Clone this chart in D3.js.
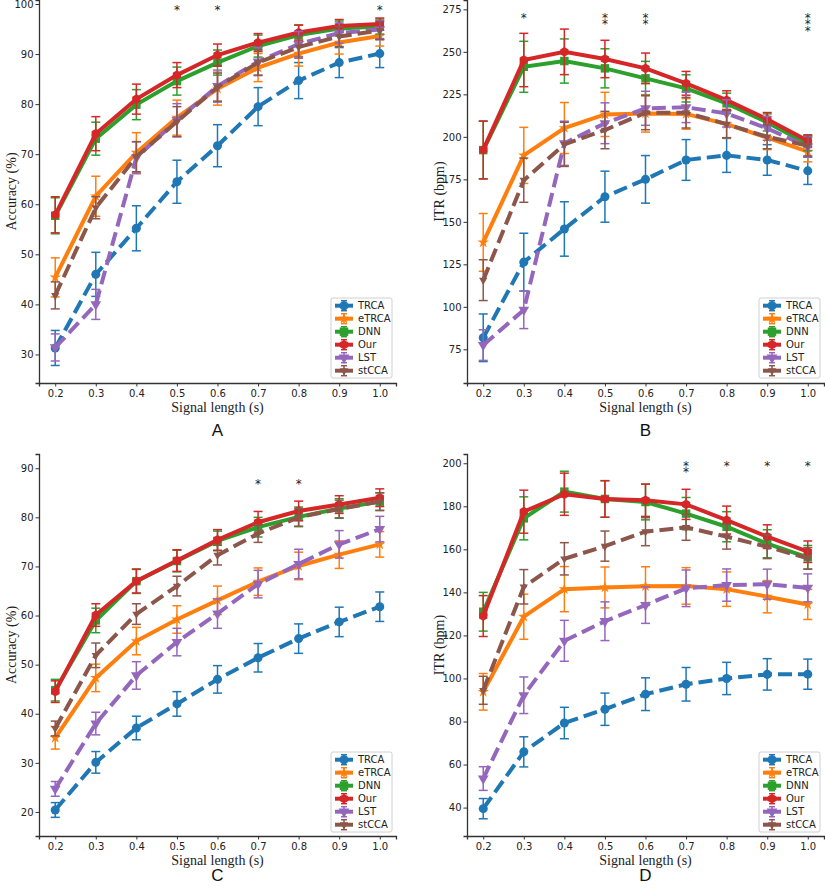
<!DOCTYPE html>
<html>
<head>
<meta charset="utf-8">
<script src="https://cdn.jsdelivr.net/npm/d3@7"></script>
<style>
  body { margin: 0; background: #fff; }
  svg { display: block; }
</style>
</head>
<body>
<svg id="chart" width="825" height="889"></svg>
<script>
// signal lengths (s) and methods, legend order
const lengths = [0.2, 0.3, 0.4, 0.5, 0.6, 0.7, 0.8, 0.9, 1.0]
const methods = ["TRCA", "eTRCA", "DNN", "Our", "LST", "stCCA"]

// A - accuracy (%), rows follow methods
const accA = [
  [31.3, 46.0, 55.2, 64.5, 71.7, 79.5, 84.7, 88.3, 90.1],
  [45.4, 61.6, 70.3, 77.3, 83.1, 87.3, 90.1, 92.3, 93.6],
  [57.7, 73.1, 79.9, 84.6, 88.3, 91.6, 93.8, 95.1, 95.5],
  [57.9, 74.1, 81.0, 85.8, 89.8, 92.3, 94.3, 95.6, 96.0],
  [31.4, 40.0, 69.3, 76.8, 83.6, 88.5, 92.0, 94.2, 94.9],
  [41.8, 59.3, 69.5, 76.5, 83.4, 88.3, 91.4, 93.5, 94.7]
]
const accAErr = [
  [3.5, 4.4, 4.5, 4.3, 4.2, 3.8, 3.6, 3.0, 2.8],
  [3.9, 4.0, 4.0, 3.5, 3.3, 2.8, 2.5, 2.3, 2.0],
  [3.6, 3.3, 3.0, 2.8, 2.5, 2.2, 2.0, 1.5, 1.5],
  [3.6, 3.4, 3.0, 2.5, 2.2, 1.8, 1.5, 1.3, 1.2],
  [2.7, 3.0, 3.2, 3.3, 3.2, 2.8, 2.5, 2.0, 1.8],
  [2.7, 2.2, 3.0, 3.0, 2.8, 2.5, 2.2, 2.0, 1.8]
]
const starsA = [0, 0, 0, 1, 1, 0, 0, 0, 1]

// B - ITR (bpm)
const itrB = [
  [81.8, 126.3, 145.8, 164.8, 175.0, 186.4, 189.1, 186.4, 180.0],
  [137.9, 189.1, 205.2, 213.2, 213.8, 213.5, 207.5, 199.5, 191.3],
  [192.2, 241.2, 244.6, 240.3, 234.4, 228.5, 219.7, 208.5, 195.8],
  [192.3, 245.2, 250.0, 245.8, 240.3, 231.5, 221.6, 210.3, 197.7],
  [77.5, 98.2, 196.2, 208.0, 216.8, 217.4, 213.8, 205.0, 194.2],
  [115.7, 174.5, 195.6, 204.0, 214.2, 214.2, 207.5, 200.0, 194.8]
]
const itrBErr = [
  [14, 17, 16, 15, 14, 12, 10, 9, 8],
  [17, 16.5, 15, 13, 11, 9, 8, 7, 6],
  [17, 15, 13, 11.5, 10, 8, 6, 5, 4],
  [17, 15.7, 13.4, 11, 9, 7, 5.5, 4, 3.5],
  [9, 11, 13, 12, 10, 9, 8, 7, 6],
  [12, 13, 13, 11, 10, 9, 8, 7, 6]
]
const starsB = [0, 1, 0, 2, 2, 0, 0, 0, 3]

// C - accuracy (%)
const accC = [
  [20.4, 30.1, 37.1, 42.0, 47.0, 51.4, 55.3, 58.7, 61.8],
  [35.1, 47.3, 54.8, 59.2, 63.1, 66.9, 70.1, 72.4, 74.5],
  [44.8, 59.0, 67.0, 71.1, 75.2, 78.0, 80.1, 81.8, 83.2],
  [44.5, 60.1, 67.0, 71.2, 75.4, 79.0, 81.3, 82.6, 84.0],
  [24.7, 38.0, 47.8, 54.6, 60.4, 66.4, 70.5, 74.5, 77.6],
  [37.0, 51.9, 60.3, 66.0, 72.3, 76.7, 80.0, 81.7, 83.2]
]
const accCErr = [
  [1.5, 2.2, 2.4, 2.5, 2.8, 2.9, 3.0, 3.0, 3.0],
  [2.3, 2.8, 2.8, 2.8, 2.9, 2.8, 2.8, 2.8, 2.6],
  [2.2, 2.5, 2.5, 2.2, 2.0, 2.0, 2.0, 2.0, 1.8],
  [2.2, 2.3, 2.4, 2.2, 2.1, 2.2, 2.0, 1.8, 1.8],
  [1.5, 2.3, 2.8, 2.8, 3.0, 2.8, 3.0, 2.8, 2.6],
  [1.5, 2.5, 2.1, 2.0, 2.0, 1.8, 1.8, 1.8, 1.8]
]
const starsC = [0, 0, 0, 0, 0, 1, 1, 0, 0]

// D - ITR (bpm)
const itrD = [
  [39.5, 65.9, 79.3, 85.7, 92.7, 97.3, 100.0, 101.9, 102.0],
  [93.8, 128.7, 141.5, 142.3, 142.9, 143.0, 141.5, 138.0, 134.4],
  [131.0, 174.4, 186.8, 183.4, 182.0, 176.6, 170.5, 162.6, 156.3],
  [129.0, 177.5, 185.6, 183.4, 182.8, 180.9, 173.6, 165.9, 158.9],
  [53.5, 92.2, 117.5, 126.6, 134.1, 141.9, 143.4, 143.8, 142.1],
  [94.5, 142.6, 155.6, 161.5, 168.2, 170.2, 165.9, 161.2, 155.8]
]
const itrDErr = [
  [4.7, 7, 7.3, 7.5, 7.6, 7.8, 7.5, 7.3, 7],
  [8.5, 10.5, 10.5, 9.5, 9, 8.5, 8, 7.5, 7],
  [9, 10, 9.5, 8.5, 8.3, 7.5, 7, 6.5, 5.5],
  [9.5, 10, 9.8, 8.5, 7.5, 7, 6.5, 5.5, 5],
  [5.5, 8.5, 9.5, 9, 8.5, 8.5, 7.5, 7, 6.5],
  [6.5, 8, 7.5, 7, 6.5, 6, 5.8, 5.5, 5]
]
const starsD = [0, 0, 0, 0, 0, 2, 1, 1, 1]

const colors = ["#1f77b4", "#ff7f0e", "#2ca02c", "#d62728", "#9467bd", "#8c564b"]
const dashes = ["14,6", null, null, null, "14,6", "14,6"]

// hexagon marker for "Our"
const symbolHex = {
  draw(ctx, size) {
    const r = Math.sqrt(size / 2.598)
    for (let i = 0; i < 6; i++) {
      const a = Math.PI / 6 + i * Math.PI / 3
      if (i === 0) ctx.moveTo(r * Math.cos(a), r * Math.sin(a))
      else ctx.lineTo(r * Math.cos(a), r * Math.sin(a))
    }
    ctx.closePath()
  }
}
const markers = [
  {type: d3.symbolCircle, size: 64, rot: 0},
  {type: d3.symbolStar, size: 40, rot: 0},
  {type: d3.symbolSquare, size: 72, rot: 0},
  {type: symbolHex, size: 60, rot: 0},
  {type: d3.symbolTriangle, size: 50, rot: 180},
  {type: d3.symbolTriangle, size: 30, rot: 180}
]

const svg = d3.select("#chart")

const panels = [
  {label: "A", left: 39, right: 396, top: 0, bottom: 383, domain: [24.3, 100.8],
   ticks: d3.range(30, 101, 10), ylabel: "Accuracy (%)", means: accA, errs: accAErr,
   stars: starsA, starY: 99.3, legend: [331, 298], labelGap: 53},
  {label: "B", left: 467, right: 824, top: 0, bottom: 383, domain: [55.2, 280.5],
   ticks: d3.range(75, 276, 25), ylabel: "ITR (bpm)", means: itrB, errs: itrBErr,
   stars: starsB, starY: 271.6, legend: [759, 298], labelGap: 53},
  {label: "C", left: 39, right: 396, top: 454, bottom: 836, domain: [15.1, 92.9],
   ticks: d3.range(20, 91, 10), ylabel: "Accuracy (%)", means: accC, errs: accCErr,
   stars: starsC, starY: 87.3, legend: [331, 752], labelGap: 45},
  {label: "D", left: 467, right: 824, top: 454, bottom: 836, domain: [26.8, 204.3],
   ticks: d3.range(40, 201, 20), ylabel: "ITR (bpm)", means: itrD, errs: itrDErr,
   stars: starsD, starY: 200, legend: [759, 752], labelGap: 45}
]

panels.forEach(p => drawPanel(p))

function drawPanel(p) {
  const x = d3.scaleLinear().domain([0.16, 1.04]).range([p.left, p.right])
  const y = d3.scaleLinear().domain(p.domain).range([p.bottom, p.top])
  const g = svg.append("g")

  // axes
  const xAxis = g.append("g")
    .attr("transform", "translate(0," + p.bottom + ")")
    .call(d3.axisBottom(x).tickValues(lengths).tickFormat(d3.format(".1f")).tickSizeOuter(0).tickSize(3.5).tickPadding(3.5))
  const yAxis = g.append("g")
    .attr("transform", "translate(" + p.left + ",0)")
    .call(d3.axisLeft(y).tickValues(p.ticks).tickSizeOuter(0).tickSize(3.5).tickPadding(2))
  ;[xAxis, yAxis].forEach(a => {
    a.select(".domain").attr("stroke", "#333").attr("stroke-width", 1.3)
    a.selectAll(".tick line").attr("stroke", "#333").attr("stroke-width", 1)
    a.selectAll(".tick text").attr("font-family", "DejaVu Sans").attr("font-size", 10).attr("fill", "#222")
  })

  g.append("text")
    .attr("x", (p.left + p.right) / 2)
    .attr("y", p.bottom + 29)
    .attr("text-anchor", "middle")
    .attr("font-family", "Liberation Serif")
    .attr("font-size", 14)
    .attr("fill", "#222")
    .text("Signal length (s)")

  g.append("text")
    .attr("transform", "translate(" + (p.left - 23) + "," + ((p.top + p.bottom) / 2) + ")rotate(-90)")
    .attr("text-anchor", "middle")
    .attr("font-family", "Liberation Serif")
    .attr("font-size", 14)
    .attr("fill", "#222")
    .text(p.ylabel)

  g.append("text")
    .attr("x", (p.left + p.right) / 2)
    .attr("y", p.bottom + p.labelGap)
    .attr("text-anchor", "middle")
    .attr("font-family", "Liberation Sans")
    .attr("font-size", 17)
    .attr("fill", "#111")
    .text(p.label)

  // series
  methods.forEach((m, i) => {
    const mean = p.means[i]
    const err = p.errs[i]
    const pts = lengths.map((l, j) => ({x: l, v: mean[j], e: err[j]}))
    const s = g.append("g")

    const bars = s.selectAll("g.bar").data(pts).enter().append("g")
    bars.append("line")
      .attr("x1", d => x(d.x)).attr("x2", d => x(d.x))
      .attr("y1", d => y(d.v - d.e)).attr("y2", d => y(d.v + d.e))
      .attr("stroke", colors[i]).attr("stroke-width", 1.5)
    ;[-1, 1].forEach(sign => {
      bars.append("line")
        .attr("x1", d => x(d.x) - 4.5).attr("x2", d => x(d.x) + 4.5)
        .attr("y1", d => y(d.v + sign * d.e)).attr("y2", d => y(d.v + sign * d.e))
        .attr("stroke", colors[i]).attr("stroke-width", 1.5)
    })

    s.append("path")
      .datum(pts)
      .attr("d", d3.line().x(d => x(d.x)).y(d => y(d.v)))
      .attr("fill", "none")
      .attr("stroke", colors[i])
      .attr("stroke-width", 4)
      .attr("stroke-dasharray", dashes[i])

    const mk = markers[i]
    s.selectAll("path.mk").data(pts).enter().append("path")
      .attr("d", d3.symbol().type(mk.type).size(mk.size))
      .attr("transform", d => "translate(" + x(d.x) + "," + y(d.v) + ")rotate(" + mk.rot + ")")
      .attr("fill", colors[i])
  })

  // significance stars, stacked in one text per point
  p.stars.forEach((n, j) => {
    if (n === 0) return
    const t = g.append("text")
      .attr("text-anchor", "middle")
      .attr("font-family", "DejaVu Sans")
      .attr("font-size", 12)
      .attr("fill", "#222")
    for (let k = 0; k < n; k++) {
      t.append("tspan")
        .attr("x", x(lengths[j]))
        .attr("y", y(p.starY) + k * 6.7 + 6.4)
        .text("*")
    }
  })

  // legend
  const lg = g.append("g").attr("transform", "translate(" + p.legend[0] + "," + p.legend[1] + ")")
  lg.append("rect")
    .attr("width", 61).attr("height", 80).attr("rx", 2)
    .attr("fill", "#fff").attr("fill-opacity", 0.8)
    .attr("stroke", "#d0d0d0").attr("stroke-width", 1)
  methods.forEach((m, i) => {
    const cy = 7.7 + i * 13
    const e = lg.append("g").attr("transform", "translate(0," + cy + ")")
    e.append("line").attr("x1", 4).attr("x2", 22).attr("y1", 0).attr("y2", 0)
      .attr("stroke", colors[i]).attr("stroke-width", 4)
    e.append("line").attr("x1", 13).attr("x2", 13).attr("y1", -5).attr("y2", 5)
      .attr("stroke", colors[i]).attr("stroke-width", 1.5)
    ;[-5, 5].forEach(cy2 => {
      e.append("line").attr("x1", 10).attr("x2", 16).attr("y1", cy2).attr("y2", cy2)
        .attr("stroke", colors[i]).attr("stroke-width", 1.5)
    })
    const mk = markers[i]
    e.append("path")
      .attr("d", d3.symbol().type(mk.type).size(mk.size))
      .attr("transform", "translate(13,0)rotate(" + mk.rot + ")")
      .attr("fill", colors[i])
    e.append("text")
      .attr("x", 27).attr("y", 3.6)
      .attr("font-family", "DejaVu Sans")
      .attr("font-size", 10)
      .attr("fill", "#222")
      .text(m)
  })
}
</script>
</body>
</html>
